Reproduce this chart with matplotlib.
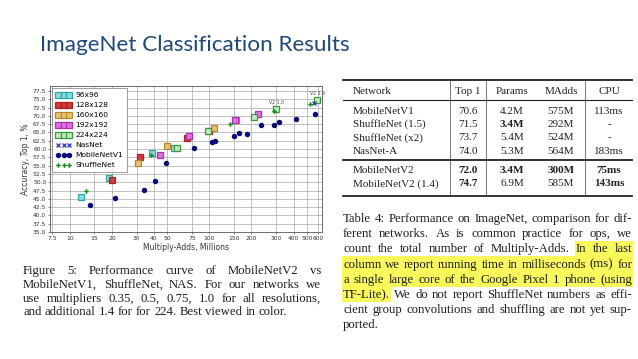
# %%
import matplotlib
matplotlib.use('Agg')
import matplotlib.pyplot as plt
from matplotlib.lines import Line2D
from matplotlib.patches import Rectangle
from matplotlib.ticker import NullLocator

# %%
# MobileNetV2 points, one list per input resolution (MAdds in millions, top-1 %)
res_labels = ['96x96', '128x128', '160x160', '192x192', '224x224']
v2_madds = [
    [12, 19, 39, 56],
    [20, 32, 69, 99],
    [31, 50, 107, 154],
    [44, 71, 153, 221],
    [59, 97, 209, 300, 585],
]
v2_acc = [
    [45.5, 51.2, 58.8, 60.3],
    [50.8, 57.7, 63.2, 65.3],
    [55.7, 61.0, 66.4, 68.8],
    [58.2, 64.0, 68.7, 70.7],
    [60.3, 65.4, 69.8, 72.0, 74.7],
]

nasnet_madds = [564]
nasnet_acc = [74.0]

v1_madds = [14, 21, 34, 41, 49, 77, 104, 110, 150, 162, 186, 233, 291, 317, 418, 569]
v1_acc = [43.0, 45.3, 47.6, 50.5, 55.8, 60.2, 62.2, 62.5, 63.8, 64.8, 64.5, 67.2, 67.1, 68.3, 69.0, 70.5]

shuffle_madds = [13, 38, 140, 292, 524]
shuffle_acc = [47.3, 58.3, 67.5, 71.5, 73.7]

notes = ['V2 1.0', 'V2 1.4']
note_madds = [300, 585]
note_acc = [72.0, 74.7]

xticks = [7.5, 10, 15, 20, 30, 40, 50, 75, 100, 150, 200, 300, 400, 500, 600]
xtick_labels = ['7.5', '10', '15', '20', '30', '40', '50', '75', '100', '150',
                '200', '300', '400', '500', '600']
yticks = [35.0 + 2.5 * i for i in range(18)]

# table 4
tbl_header = ['Network', 'Top 1', 'Params', 'MAdds', 'CPU']
tbl_network = ['MobileNetV1', 'ShuffleNet (1.5)', 'ShuffleNet (x2)', 'NasNet-A',
               'MobileNetV2', 'MobileNetV2 (1.4)']
tbl_top1 = ['70.6', '71.5', '73.7', '74.0', '72.0', '74.7']
tbl_params = ['4.2M', '3.4M', '5.4M', '5.3M', '3.4M', '6.9M']
tbl_madds = ['575M', '292M', '524M', '564M', '300M', '585M']
tbl_cpu = ['113ms', '-', '-', '183ms', '75ms', '143ms']
# (row, col) cells set in bold
tbl_bold = {(1, 2), (4, 1), (4, 2), (4, 3), (4, 4), (5, 1), (5, 4)}

fig_caption = [
    'Figure 5:  Performance curve of MobileNetV2 vs',
    'MobileNetV1, ShuffleNet, NAS. For our networks we',
    'use multipliers 0.35, 0.5, 0.75, 1.0 for all resolutions,',
    'and additional 1.4 for for 224. Best viewed in color.',
]
tbl_caption = [
    'Table 4: Performance on ImageNet, comparison for dif-',
    'ferent networks.  As is common practice for ops, we',
    'count the total number of Multiply-Adds. In the last',
    'column we report running time in milliseconds (ms) for',
    'a single large core of the Google Pixel 1 phone (using',
    'TF-Lite). We do not report ShuffleNet numbers as effi-',
    'cient group convolutions and shuffling are not yet sup-',
    'ported.',
]
# highlighted words: line -> (first word, last word)
tbl_highlight = {2: (6, 8), 3: (0, 8), 4: (0, 10), 5: (0, 0)}

# %%
W, H = 638, 359
fig = plt.figure(figsize=(W / 100, H / 100), dpi=100)
fig.patch.set_facecolor('white')


def px(x, y):
    # pixel position (from top left) -> figure fraction
    return x / W, 1 - y / H


fig.text(*px(40, 51), 'ImageNet Classification Results', fontsize=16.2,
         family='Lato', color='#1f497d', va='baseline')

# %%
# Performance curve
ax = fig.add_axes([50 / W, 1 - 232 / H, 272 / W, 146 / H])
ax.set_xscale('log')

edge_cols = ['#2aa6a6', '#b02020', '#b8862b', '#b030b0', '#3a9a3a']
face_cols = ['#8fdada', '#d03a3a', '#e8c274', '#e072e0', '#c4eac4']
for lab, xs, ys, ec, fc in zip(res_labels, v2_madds, v2_acc, edge_cols, face_cols):
    ax.plot(xs, ys, ls='none', marker='s', ms=3.8, mec=ec, mfc=fc, mew=0.9,
            label=lab, zorder=3)
ax.plot(nasnet_madds, nasnet_acc, ls='none', marker='x', ms=3.2, mew=0.9,
        color='#2f2fd0', label='NasNet', zorder=3)
ax.plot(v1_madds, v1_acc, ls='none', marker='o', ms=2.9, color='#0b0b7a',
        label='MobileNetV1', zorder=3)
ax.plot(shuffle_madds, shuffle_acc, ls='none', marker='P', ms=3.3, mew=0,
        color='#1b8a1b', label='ShuffleNet', zorder=3)

for t, x, y in zip(notes, note_madds, note_acc):
    ax.annotate(t, (x, y), xytext=(-5, 4), textcoords='offset points',
                fontsize=3.3, color='#444444')

ax.set_xticks(xticks)
ax.set_xticklabels(xtick_labels)
ax.xaxis.set_minor_locator(NullLocator())
ax.set_yticks(yticks)
ax.set_yticklabels(['%.1f' % v for v in yticks])
ax.set_xlim(7.2, 640)
ax.set_ylim(35, 79)
ax.tick_params(labelsize=4.3, length=1.5, width=0.4, pad=1.2, colors='#333333')
ax.grid(True, color='#a8a8a8', lw=0.5)
for s in ax.spines.values():
    s.set_linewidth(0.6)
    s.set_color('#555555')
ax.set_xlabel('Multiply-Adds, Millions', fontsize=5.5, labelpad=1.5, color='#333333')
ax.set_ylabel('Accuracy, Top 1, %', fontsize=5.5, labelpad=2, color='#333333')
leg = ax.legend(loc='upper left', fontsize=5.4, numpoints=3, handlelength=2.0,
                handletextpad=0.6, labelspacing=0.5, borderpad=0.5,
                fancybox=False, framealpha=1, borderaxespad=0.3)
leg.get_frame().set_linewidth(0.5)
leg.get_frame().set_edgecolor('#777777')

# %%
# Table 4
serif = 'Liberation Serif'
tx0, tx1 = 343, 632
rules = [(80, 1.3), (100, 0.8), (160, 1.3), (196, 1.3)]
for y, lw in rules:
    fig.add_artist(Line2D([tx0 / W, tx1 / W], [1 - y / H] * 2, lw=lw, color='#222222'))
for x in [450, 486, 585]:
    fig.add_artist(Line2D([x / W] * 2, [1 - 81 / H, 1 - 195 / H], lw=0.5, color='#444444'))

col_x = [353, 468, 512, 561, 609]
col_ha = ['left', 'center', 'center', 'center', 'center']
row_y = [91.5, 111, 124.3, 137.6, 151, 170.5, 184]
for c, txt in enumerate(tbl_header):
    fig.text(*px(col_x[c], row_y[0]), txt, fontsize=8, family=serif,
             ha=col_ha[c], va='center', color='#222222')
columns = [tbl_network, tbl_top1, tbl_params, tbl_madds, tbl_cpu]
for r in range(len(tbl_network)):
    for c, col in enumerate(columns):
        fig.text(*px(col_x[c], row_y[r + 1]), col[r], fontsize=8, family=serif,
                 ha=col_ha[c], va='center', color='#222222',
                 weight='bold' if (r, c) in tbl_bold else 'normal')

# %%
# Captions, justified word by word
renderer = fig.canvas.get_renderer()


def justify(lines, x0, x1, y0, pitch, fs, highlight=None):
    highlight = highlight or {}
    for i, line in enumerate(lines):
        words = line.split()
        y = y0 + i * pitch
        texts = [fig.text(0, 0, w, fontsize=fs, family=serif, color='#1e1e1e',
                          va='baseline', zorder=3) for w in words]
        widths = [t.get_window_extent(renderer).width for t in texts]
        last = i == len(lines) - 1
        if last or len(words) < 2:
            gap = fs * 0.25 * 100 / 72
        else:
            gap = (x1 - x0 - sum(widths)) / (len(words) - 1)
        x = x0
        starts = []
        for t, w in zip(texts, widths):
            t.set_position(px(x, y))
            starts.append(x)
            x += w + gap
        if i in highlight:
            a, b = highlight[i]
            hx0 = starts[a] - 1
            hx1 = starts[b] + widths[b] + 1
            fig.add_artist(Rectangle(px(hx0, y + 4), (hx1 - hx0) / W, (pitch + 0.5) / H,
                                     transform=fig.transFigure, color='#f9f95c',
                                     lw=0, zorder=1))


justify(fig_caption, 23, 321, 274, 13.8, 9.2)
justify(tbl_caption, 343, 632, 222, 15.2, 9.2, tbl_highlight)

fig.savefig('out.png', dpi=100)
